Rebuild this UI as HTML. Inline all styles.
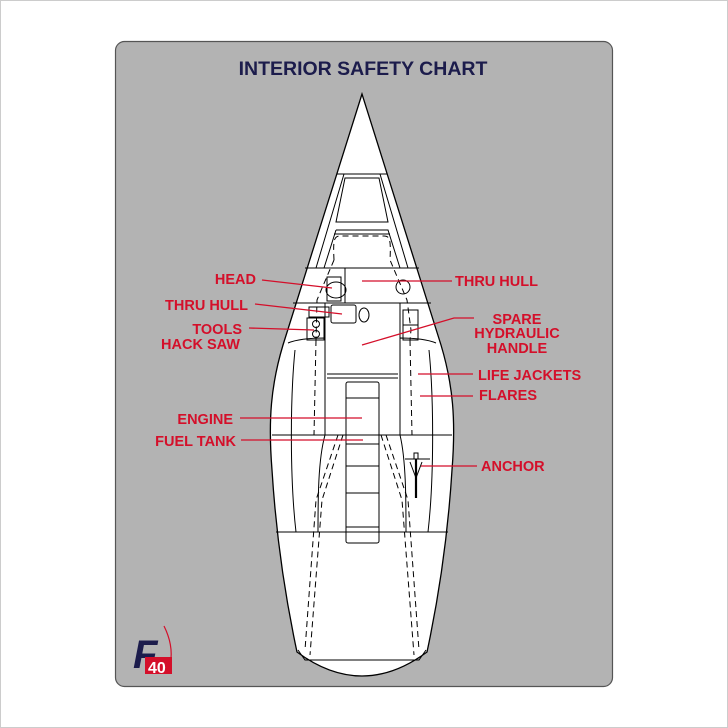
<!DOCTYPE html>
<html><head><style>
html,body{margin:0;padding:0;background:#fff;}
svg{display:block}
text{font-family:"Liberation Sans",Arial,sans-serif;font-weight:bold;}
</style></head><body>
<svg width="728" height="728" viewBox="0 0 728 728" xmlns="http://www.w3.org/2000/svg">
<rect x="0.5" y="0.5" width="727" height="727" fill="#fff" stroke="#ccc"/>
<rect x="115.5" y="41.5" width="497" height="645" rx="9" fill="#b3b3b3" stroke="#555" stroke-width="1.2"/>
<text x="363" y="75" font-size="19.5" fill="#1c1c4c" text-anchor="middle">INTERIOR SAFETY CHART</text>

<g stroke="#000" stroke-width="1.3" fill="#fff">
<path d="M362,94 L283,345 C271,385 268,420 272,470 C277,550 288,610 297,652 Q362,700 427,652 C436,610 447,550 452,470 C456,420 453,385 441,345 Z"/>
</g>
<g stroke="#000" stroke-width="1" fill="none">
<line x1="337" y1="174" x2="387" y2="174"/>
<line x1="305" y1="268" x2="419" y2="268"/>
<line x1="293" y1="303" x2="431" y2="303"/>
<line x1="272" y1="435" x2="452" y2="435"/>
<line x1="276" y1="532" x2="448" y2="532"/>
<path d="M345,178 L379,178 L388,222 L336,222 Z"/>
<path d="M344,174 L316,268 M380,174 L408,268"/>
<path d="M336,230 L388,230 L400,268 M336,230 L324,268"/>
<path d="M334,234 L390,234"/>
<path d="M345,268 L345,303"/>
<rect x="327" y="277" width="14" height="24"/>
<ellipse cx="336" cy="290" rx="10" ry="8"/>
<circle cx="403" cy="287" r="7"/>
<rect x="309" y="307" width="20" height="10"/>
<rect x="331" y="305" width="25" height="18" rx="2"/>
<ellipse cx="364" cy="315" rx="5" ry="7"/>
<rect x="307" y="318" width="17" height="22"/>
<circle cx="316" cy="324" r="3.5"/><circle cx="316" cy="334" r="3.5"/>
<rect x="403" y="310" width="15" height="30"/>
<line x1="403" y1="325" x2="418" y2="325"/>
<path d="M288,343 Q300,338 325,338 L325,435 M436,343 Q424,338 400,338 L400,435"/>
<path d="M325,338 L325,303 M400,338 L400,303"/>
<line x1="327" y1="374" x2="398" y2="374"/>
<line x1="327" y1="378" x2="398" y2="378"/>
<path d="M295,350 C290,400 290,480 296,532 M429,350 C434,400 434,480 428,532"/>
<path d="M325,435 C318,460 318,500 318,532 M400,435 C406,460 406,500 406,532"/>
<rect x="346" y="382" width="33" height="161" rx="2"/>
<line x1="346" y1="398" x2="379" y2="398"/>
<line x1="346" y1="444" x2="379" y2="444"/>
<line x1="346" y1="466" x2="379" y2="466"/>
<line x1="346" y1="493" x2="379" y2="493"/>
<line x1="346" y1="527" x2="379" y2="527"/>
<path d="M298,650 L305,660 L318,660 L406,660 L419,660 L426,650"/>
<line x1="405" y1="459" x2="430" y2="459"/>
<path d="M410,462 L416,478 L422,462" />
<line x1="416" y1="456" x2="416" y2="498" stroke-width="2.2"/>
<rect x="414" y="453" width="4" height="6" fill="#fff"/>
</g>
<g stroke="#000" stroke-width="1" fill="none" stroke-dasharray="6,4">
<path d="M334,260 C333,240 334,236 340,236 L384,236 C390,236 391,240 390,260 L407,300 L411,330 L410,340 M334,260 L317,300 L316,340"/>
<path d="M316,340 L314,435 M410,340 L412,435"/>
<line x1="290" y1="435" x2="434" y2="435"/>
<path d="M343,435 L322,500 L310,655 M338,435 L316,500 L305,650"/>
<path d="M381,435 L402,500 L414,655 M386,435 L408,500 L419,650"/>
</g>

<g stroke="#d40f2a" stroke-width="1.3" fill="none">
<line x1="262" y1="280" x2="332" y2="288"/>
<line x1="255" y1="304" x2="342" y2="314"/>
<line x1="249" y1="328" x2="314" y2="330"/>
<line x1="362" y1="281" x2="452" y2="281"/>
<polyline points="362,345 454,318 474,318"/>
<line x1="418" y1="374" x2="473" y2="374"/>
<line x1="420" y1="396" x2="473" y2="396"/>
<line x1="240" y1="418" x2="362" y2="418"/>
<line x1="241" y1="440" x2="363" y2="440"/>
<line x1="421" y1="466" x2="477" y2="466"/>
</g>
<g fill="#d40f2a" font-size="14.5">
<text x="256" y="284" text-anchor="end">HEAD</text>
<text x="248" y="310" text-anchor="end">THRU HULL</text>
<text x="242" y="334" text-anchor="end">TOOLS</text>
<text x="240" y="349" text-anchor="end">HACK SAW</text>
<text x="455" y="286">THRU HULL</text>
<text x="517" y="324" text-anchor="middle">SPARE</text>
<text x="517" y="338" text-anchor="middle">HYDRAULIC</text>
<text x="517" y="353" text-anchor="middle">HANDLE</text>
<text x="478" y="380">LIFE JACKETS</text>
<text x="479" y="400">FLARES</text>
<text x="233" y="424" text-anchor="end">ENGINE</text>
<text x="236" y="446" text-anchor="end">FUEL TANK</text>
<text x="481" y="471">ANCHOR</text>
</g>
<g>
<text x="133" y="668" font-size="40" fill="#1c1c4c" font-style="italic" font-weight="normal">F</text>
<path d="M164,626 Q176,650 168,672" stroke="#d40f2a" stroke-width="1.2" fill="none"/>
<rect x="145" y="657" width="27" height="17" fill="#d40f2a"/>
<text x="148" y="673" font-size="16" fill="#fff" font-weight="normal">40</text>
</g>
</svg>
</body></html>
